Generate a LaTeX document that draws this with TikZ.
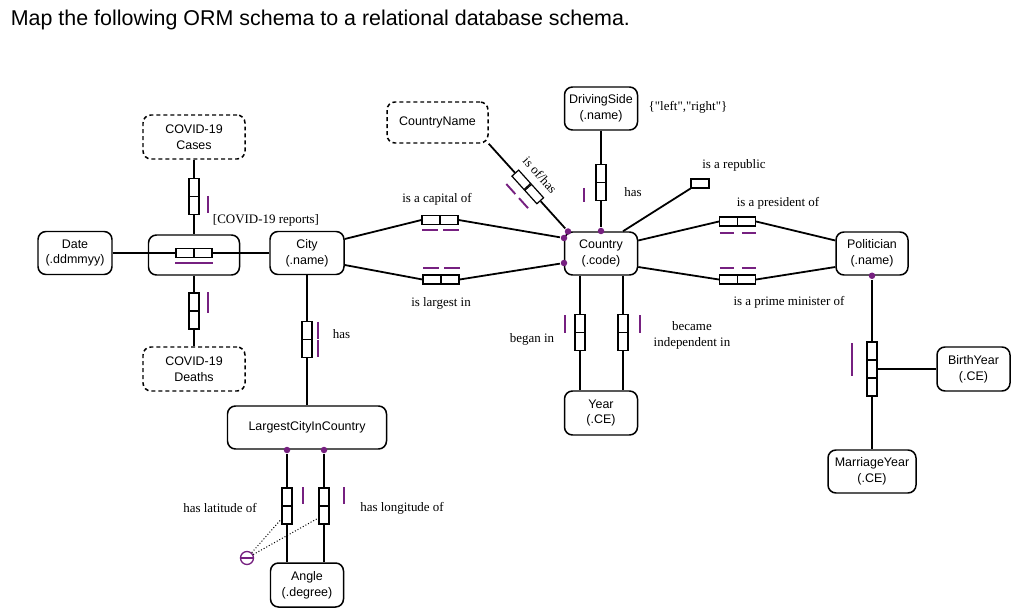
\documentclass[tikz,border=0pt]{standalone}
\usepackage{fontspec}
\setmainfont{Liberation Serif}
\newfontfamily\sansf{Liberation Sans}
\newfontfamily\serifnm[Ligatures=TeXOff]{Liberation Serif}
\usetikzlibrary{calc}
\definecolor{ormp}{RGB}{118,32,128}
\begin{document}
\begin{tikzpicture}[x=1bp,y=-1bp,line width=1.8pt,
  sz/.style 2 args={minimum width=#1bp,minimum height=#2bp},
  ent/.style={draw,rounded corners=8pt,align=center,inner sep=0pt,line width=1.5pt,font=\sansf\fontsize{12.5}{16}\selectfont},
  val/.style={ent,dash pattern=on 4pt off 3pt},
  hr/.style={draw,fill=white,minimum width=18bp,minimum height=9bp,inner sep=0pt,line width=1.2pt},
  vr/.style={draw,fill=white,minimum width=10bp,minimum height=18bp,inner sep=0pt,line width=1.2pt},
  lab/.style={font=\fontsize{13}{16}\selectfont,align=center,inner sep=1pt},
  uc/.style={draw=ormp,line width=1.9pt},
  dot/.style={circle,fill=ormp,inner sep=0pt,minimum size=6.5bp}]
\fill[white] (0,0) rectangle (1024,615);
\useasboundingbox (0,0) rectangle (1024,615);

\node[anchor=base west,inner sep=0pt,font=\sansf\fontsize{21.5}{24}\selectfont] (title) at (10,26) {Map the following ORM schema to a relational database schema.};

% entity / value types
\node[ent,sz={74}{43}] (date) at (75,253) {Date\\(.ddmmyy)};
\node[ent,sz={91}{40}] (rep) at (194,255) {};
\node[ent,sz={74}{43}] (city) at (307,253) {City\\(.name)};
\node[val,sz={102}{44}] (cases) at (194,137) {COVID-19\\Cases};
\node[val,sz={102}{44}] (deaths) at (194,369) {COVID-19\\Deaths};
\node[ent,sz={159}{43}] (lcic) at (307,427.5) {LargestCityInCountry};
\node[ent,sz={73}{44}] (angle) at (307,585) {Angle\\(.degree)};
\node[val,sz={101}{41}] (cname) at (437.5,122.5) {CountryName};
\node[ent,sz={73}{43}] (dside) at (601,108.5) {DrivingSide\\(.name)};
\node[ent,sz={73}{43}] (country) at (601,253.5) {Country\\(.code)};
\node[ent,sz={73}{44}] (year) at (601,413) {Year\\(.CE)};
\node[ent,sz={72}{43}] (pol) at (872,253.5) {Politician\\(.name)};
\node[ent,sz={73}{44}] (birth) at (973.5,369) {BirthYear\\(.CE)};
\node[ent,sz={88}{43}] (marr) at (872,471.5) {MarriageYear\\(.CE)};

% COVID-19 reports
\node[hr] (r1) at (185,253) {};
\node[hr] (r2) at (203,253) {};
\draw[uc] ($(r1.south west)+(0,5)$) -- ($(r2.south east)+(0,5)$);
\draw (date.east) -- (r1.west);
\draw (r2.east) -- (city.west);
\node[lab] (replab) at (266,220) {[COVID-19 reports]};

\node[vr] (c1) at (194,187.5) {};
\node[vr] (c2) at (194,205.5) {};
\draw[uc] ($(c2.north east)+(8,0)$) -- ($(c2.south east)+(8,-2)$);
\draw (cases.south) -- (c1.north);
\draw (c2.south) -- (rep.north);

\node[vr] (d1) at (194,302) {};
\node[vr] (d2) at (194,320) {};
\draw[uc] ($(d1.north east)+(8,0)$) -- ($(d1.south east)+(8,1)$);
\draw (rep.south) -- (d1.north);
\draw (d2.south) -- (deaths.north);

% City has LargestCityInCountry
\node[vr] (h1) at (307,330.5) {};
\node[vr] (h2) at (307,348.5) {};
\draw[uc] ($(h1.north east)+(5,1)$) -- ($(h1.south east)+(5,-1)$);
\draw[uc] ($(h2.north east)+(5,1.5)$) -- ($(h2.south east)+(5,-1)$);
\draw (city.south) -- (h1.north);
\draw (h2.south) -- (lcic.north);
\node[lab] (haslab) at (341.5,334) {has};

% latitude / longitude
\node[dot] (dl) at (287,450) {};
\node[dot] (dn) at (324,450) {};
\node[vr] (lat1) at (287,497) {};
\node[vr] (lat2) at (287,515) {};
\node[vr] (lon1) at (324,497) {};
\node[vr] (lon2) at (324,515) {};
\draw[uc] ($(lat1.north east)+(10,0)$) -- ($(lat1.south east)+(10,-3)$);
\draw[uc] ($(lon1.north east)+(14,0)$) -- ($(lon1.south east)+(14,-3)$);
\draw (dl) -- (lat1.north);
\draw (dn) -- (lon1.north);
\draw (lat2.south) -- (angle.north -| lat2);
\draw (lon2.south) -- (angle.north -| lon2);
\node[lab] (latlab) at (220,508) {has latitude of};
\node[lab] (lonlab) at (402,508) {has longitude of};
\node[circle,draw=ormp,line width=1.3pt,minimum size=13bp,inner sep=0pt] (xc) at (247,558) {};
\draw[ormp,line width=1.3pt] (xc.west) -- (xc.east);
\draw[dotted,line width=1pt] (xc) -- ($(lat2.west)+(0,4)$);
\draw[dotted,line width=1pt] (xc) -- ($(lon2.west)+(0,3)$);

% Country: is of / has CountryName
\node[dot] (di) at (568,231.5) {};
\path (cname.south east) -- (di)
  node[pos=.51,sloped,hr,anchor=east] (io1) {}
  node[pos=.51,sloped,hr,anchor=west] (io2) {};
\draw (cname.south east) -- (io1.west);
\draw (io2.east) -- (di);
\node[lab,rotate=-48] (iolab) at (540,175) {is of/has};
\begin{scope}[shift={(io1.east)},rotate=-48]
  \draw[uc] (-16.5,14) -- (-3,14);
  \draw[uc] (2.5,14) -- (16,14);
\end{scope}

% DrivingSide
\node[vr] (ds1) at (601,173.5) {};
\node[vr] (ds2) at (601,191.5) {};
\node[dot] (dd) at (601,231) {};
\draw[uc] ($(ds2.north west)+(-11,6)$) -- ($(ds2.south west)+(-11,1)$);
\draw (dside.south) -- (ds1.north);
\draw (ds2.south) -- (dd);
\node[lab] (dshas) at (633,192) {has};
\node[lab,font=\serifnm\fontsize{13}{16}\selectfont] (dsval) at (688,107) {\{"left","right"\}};

% is a republic
\node[hr] (rp) at (700,183.5) {};
\draw ($(country.north)+(22,0)$) -- (rp.south west);
\node[lab] (rplab) at (734,165) {is a republic};

% is a capital of / is largest in
\node[dot] (dcap) at (564,238) {};
\node[dot] (dlar) at (564,263) {};
\node[hr] (cp1) at (431,220) {};
\node[hr] (cp2) at (449,220) {};
\draw[uc] ($(cp1.south west)+(1,5)$) -- ($(cp1.south east)+(-3,5)$);
\draw[uc] ($(cp2.south west)+(4,5)$) -- ($(cp2.south east)+(0,5)$);
\draw ($(city.east)+(0,-14)$) -- (cp1.west);
\draw (cp2.east) -- (dcap);
\node[lab] (cplab) at (437,199) {is a capital of};

\node[hr] (lg1) at (432,279.5) {};
\node[hr] (lg2) at (450,279.5) {};
\draw[uc] ($(lg1.north west)+(1,-6)$) -- ($(lg1.north east)+(-3,-6)$);
\draw[uc] ($(lg2.north west)+(4,-6)$) -- ($(lg2.north east)+(0,-6)$);
\draw ($(city.east)+(0,12)$) -- (lg1.west);
\draw (lg2.east) -- (dlar);
\node[lab] (lglab) at (441,303) {is largest in};

% president / prime minister
\node[hr] (pr1) at (728.5,221.5) {};
\node[hr] (pr2) at (746.5,221.5) {};
\draw[uc] ($(pr1.south west)+(1,6)$) -- ($(pr1.south east)+(-4,6)$);
\draw[uc] ($(pr2.south west)+(5,6)$) -- ($(pr2.south east)+(0,6)$);
\draw ($(country.east)+(0,-13)$) -- (pr1.west);
\draw (pr2.east) -- ($(pol.west)+(0,-13)$);
\node[lab] (prlab) at (778,203) {is a president of};

\node[hr] (pm1) at (728.5,279.5) {};
\node[hr] (pm2) at (746.5,279.5) {};
\draw[uc] ($(pm1.north west)+(1,-6.5)$) -- ($(pm1.north east)+(-4,-6.5)$);
\draw[uc] ($(pm2.north west)+(5,-6.5)$) -- ($(pm2.north east)+(0,-6.5)$);
\draw ($(country.east)+(0,13.5)$) -- (pm1.west);
\draw (pm2.east) -- ($(pol.west)+(0,13.5)$);
\node[lab] (pmlab) at (789,302) {is a prime minister of};

% began in / became independent in
\node[vr] (bg1) at (580,323.5) {};
\node[vr] (bg2) at (580,341.5) {};
\draw[uc] ($(bg1.north west)+(-9,1.5)$) -- ($(bg1.south west)+(-9,0)$);
\draw (country.south -| bg1) -- (bg1.north);
\draw (bg2.south) -- (year.north -| bg2);
\node[lab] (bglab) at (532,339) {began in};

\node[vr] (in1) at (623,323.5) {};
\node[vr] (in2) at (623,341.5) {};
\draw[uc] ($(in1.north east)+(11,1.5)$) -- ($(in1.south east)+(11,0)$);
\draw (country.south -| in1) -- (in1.north);
\draw (in2.south) -- (year.north -| in2);
\node[lab] (inlab) at (692,335) {became\\independent in};

% Politician ternary
\node[dot] (dp) at (pol.south) {};
\node[vr] (t1) at (872,351) {};
\node[vr] (t2) at (872,369) {};
\node[vr] (t3) at (872,387) {};
\draw[uc] ($(t1.north west)+(-14,2)$) -- ($(t2.south west)+(-14,-3)$);
\draw (dp) -- (t1.north);
\draw (t2.east) -- (birth.west);
\draw (t3.south) -- (marr.north);
\end{tikzpicture}
\end{document}
